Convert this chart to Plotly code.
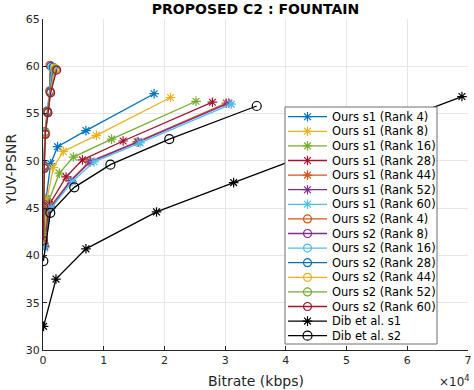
import plotly.graph_objects as go

# ---------------- data ----------------
ranks = [4, 8, 16, 28, 44, 52, 60]

# Ours s1 (asterisk markers)
s1_x = {
    4:  [150, 500, 1270, 2400, 7070, 18300],
    8:  [180, 650, 1700, 3340, 8800, 21000],
    16: [200, 850, 2700, 5000, 11300, 25200],
    28: [230, 1050, 3800, 6500, 13200, 27900],
    44: [250, 1250, 4500, 7600, 15500, 30200],
    52: [260, 1300, 4600, 7800, 15700, 30600],
    60: [270, 1350, 4800, 8400, 16000, 31000],
}
s1_y = {
    4:  [41.3, 46.0, 49.7, 51.5, 53.2, 57.1],
    8:  [41.2, 45.9, 49.3, 51.0, 52.7, 56.7],
    16: [41.1, 45.6, 48.7, 50.4, 52.3, 56.3],
    28: [41.0, 45.4, 48.3, 50.1, 52.1, 56.2],
    44: [40.9, 45.2, 47.9, 49.9, 52.0, 56.1],
    52: [40.9, 45.1, 47.9, 49.9, 52.0, 56.1],
    60: [40.8, 45.0, 47.8, 49.9, 51.9, 56.0],
}

# Ours s2 (circle markers)
s2_x = {
    4:  [50, 60, 150, 320, 680, 1100, 1150],
    8:  [55, 65, 160, 330, 700, 1150, 1300],
    16: [60, 70, 170, 340, 720, 1150, 1500],
    28: [60, 75, 180, 350, 740, 1200, 1700],
    44: [65, 80, 190, 360, 760, 1200, 1900],
    52: [70, 85, 200, 370, 780, 1250, 2100],
    60: [75, 90, 210, 380, 800, 1250, 2250],
}
s2_y = {
    4:  [41.9, 45.4, 49.5, 53.1, 55.3, 57.4, 60.1],
    8:  [41.8, 45.4, 49.5, 53.0, 55.2, 57.3, 60.0],
    16: [41.8, 45.3, 49.4, 53.0, 55.2, 57.3, 59.9],
    28: [41.7, 45.3, 49.4, 52.9, 55.2, 57.3, 59.9],
    44: [41.7, 45.3, 49.3, 52.9, 55.1, 57.2, 59.8],
    52: [42.1, 45.2, 49.3, 52.9, 55.1, 57.2, 59.7],
    60: [41.6, 45.2, 49.2, 52.8, 55.1, 57.2, 59.6],
}

dib_s1_x = [100, 2140, 7070, 18700, 31400, 69000]
dib_s1_y = [32.5, 37.5, 40.7, 44.6, 47.7, 56.8]
dib_s2_x = [60, 1200, 5150, 11100, 20800, 35200]
dib_s2_y = [39.4, 44.5, 47.2, 49.6, 52.3, 55.8]

x_tickvals = [0, 10000, 20000, 30000, 40000, 50000, 60000, 70000]
x_ticktext = ["0", "1", "2", "3", "4", "5", "6", "7"]
y_tickvals = [30, 35, 40, 45, 50, 55, 60, 65]

# ---------------- styles ----------------
BLUE, ORANGE, YELLOW, PURPLE = "#0072BD", "#D95319", "#EDB120", "#7E2F8E"
GREEN, CYAN, RED = "#77AC30", "#4DBEEE", "#A2142F"
s1_colors = {4: BLUE, 8: YELLOW, 16: GREEN, 28: RED, 44: ORANGE, 52: PURPLE, 60: CYAN}
s2_colors = {4: ORANGE, 8: PURPLE, 16: CYAN, 28: BLUE, 44: YELLOW, 52: GREEN, 60: RED}
FONT = "DejaVu Sans"
INK = "#262626"

W, H = 474, 390
PL, PR, PT, PB = 43, 468, 19, 350          # plot area in pixels

entries = []   # (name, color, symbol, size)
fig = go.Figure()


def add_series(x, y, name, color, symbol, msize=8):
    fig.add_trace(go.Scatter(
        x=x, y=y, mode="lines+markers", name=name, showlegend=False,
        line=dict(color=color, width=1.3),
        marker=dict(symbol=symbol, size=msize, color=color, line=dict(color=color, width=1.2)),
    ))
    entries.append((name, color, symbol, msize))


for r in ranks:
    add_series(s1_x[r], s1_y[r], f"Ours s1 (Rank {r})", s1_colors[r], "asterisk-open")
for r in ranks:
    add_series(s2_x[r], s2_y[r], f"Ours s2 (Rank {r})", s2_colors[r], "circle-open")
add_series(dib_s1_x, dib_s1_y, "Dib et al. s1", "black", "asterisk-open")
add_series(dib_s2_x, dib_s2_y, "Dib et al. s2", "black", "circle-open", 9)

# ---------------- legend (drawn on an overlay axis in pixel units) ----------------
LX0, LX1, LY0, LY1 = 285, 437, 107, 344
fig.add_trace(go.Scatter(
    x=[LX0, LX1, LX1, LX0, LX0], y=[LY0, LY0, LY1, LY1, LY0], xaxis="x2", yaxis="y2",
    mode="lines", fill="toself", fillcolor="white", line=dict(color="#6e6e6e", width=1),
    showlegend=False, hoverinfo="skip"))
row0, step = 116.7, 14.6
for i, (name, color, symbol, msize) in enumerate(entries):
    yc = row0 + step * i
    fig.add_trace(go.Scatter(
        x=[288, 327], y=[yc, yc], xaxis="x2", yaxis="y2", mode="lines",
        line=dict(color=color, width=1.3), showlegend=False, hoverinfo="skip"))
    fig.add_trace(go.Scatter(
        x=[307.5], y=[yc], xaxis="x2", yaxis="y2", mode="markers",
        marker=dict(symbol=symbol, size=msize, color=color, line=dict(color=color, width=1.2)),
        showlegend=False, hoverinfo="skip"))
    fig.add_annotation(text=name, xref="x2", yref="y2", x=330, y=yc, xanchor="left",
                       yanchor="middle", showarrow=False,
                       font=dict(family=FONT, size=11.5, color="black"))

axis_common = dict(
    showline=True, linecolor=INK, linewidth=1,
    ticks="inside", ticklen=4, tickcolor=INK,
    showgrid=True, gridcolor="#e6e6e6", gridwidth=1,
    zeroline=False, tickfont=dict(family=FONT, size=11, color=INK),
    mirror=False, automargin=False,
)
fig.update_layout(
    width=W, height=H,
    margin=dict(l=PL, r=W - PR, t=PT, b=H - PB, autoexpand=False),
    paper_bgcolor="white", plot_bgcolor="white",
    font=dict(family=FONT, color=INK),
    title=dict(text="<b>PROPOSED C2 : FOUNTAIN</b>", xref="paper", x=0.5, xanchor="center",
               yref="container", y=1 - 9 / H, yanchor="middle",
               font=dict(family=FONT, size=14, color="black")),
    xaxis=dict(range=[0, 70000], tickvals=x_tickvals, ticktext=x_ticktext, **axis_common),
    yaxis=dict(range=[30, 65], tickvals=y_tickvals, **axis_common),
    xaxis2=dict(overlaying="x", range=[PL, PR], visible=False, fixedrange=True),
    yaxis2=dict(overlaying="y", range=[PB, PT], visible=False, fixedrange=True),
    showlegend=False,
    hovermode=False,
)


def py(pix_y):   # pixel y -> paper y
    return (PB - pix_y) / (PB - PT)


def px(pix_x):   # pixel x -> paper x
    return (pix_x - PL) / (PR - PL)


fig.add_annotation(text="Bitrate (kbps)", xref="paper", yref="paper", x=0.5, y=py(381),
                   xanchor="center", yanchor="middle", showarrow=False,
                   font=dict(family=FONT, size=14, color=INK))
fig.add_annotation(text="YUV-PSNR", xref="paper", yref="paper", x=px(11), y=py(170),
                   xanchor="center", yanchor="middle", textangle=-90, showarrow=False,
                   font=dict(family=FONT, size=14, color=INK))
fig.add_annotation(text="×10<sup>4</sup>", xref="paper", yref="paper", x=px(472), y=py(381),
                   xanchor="right", yanchor="middle", showarrow=False,
                   font=dict(family=FONT, size=12, color=INK))
fig.write_html("out.html", config={"displayModeBar": False},
               post_script="document.body.style.margin='0';")
